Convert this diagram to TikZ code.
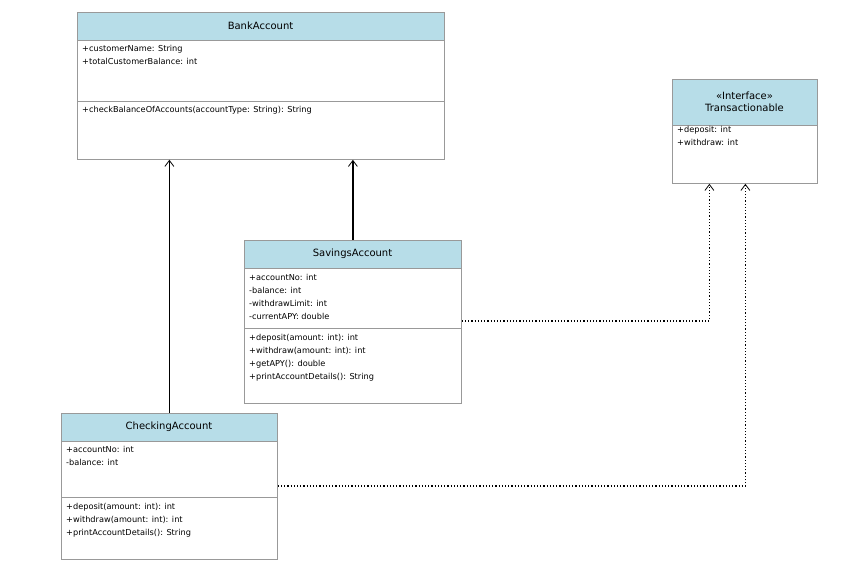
\documentclass[tikz,border=0pt]{standalone}
\usepackage{fontspec}
\setmainfont{DejaVu Sans}
\usetikzlibrary{arrows.meta}
\definecolor{hdr}{HTML}{B7DDE8}
\definecolor{brd}{HTML}{999999}
\begin{document}
\begin{tikzpicture}[x=1pt,y=-1pt,
  box/.style={draw=brd,line width=0.8pt,anchor=north west,inner sep=0},
  hd/.style={fill=hdr,draw=brd,line width=0.8pt},
  ttl/.style={font=\fontsize{10}{12}\selectfont,align=center},
  mem/.style={anchor=north west,inner sep=0,font=\fontsize{8.2}{13}\selectfont,align=left},
  inh/.style={line width=1.2pt,-{Straight Barb[length=6pt,width=9pt,line width=0.8pt]}},
  real/.style={line width=1.2pt,dotted,-{Straight Barb[length=6pt,width=9pt,line width=0.8pt]}}]
\useasboundingbox (0,0) rectangle (847,569);
% BankAccount
\node[box,minimum width=367,minimum height=147] (ba) at (77,12) {};
\filldraw[hd] (77,12) rectangle (444,40);
\draw[brd,line width=0.8pt] (77,101) -- (444,101);
\node[ttl] (bat) at (260.5,26) {BankAccount};
\node[mem] (bam) at (82,45) {+customerName: String\\+totalCustomerBalance: int};
\node[mem] (bao) at (82,106) {+checkBalanceOfAccounts(accountType: String): String};
% Transactionable
\node[box,minimum width=145,minimum height=104] (tr) at (672,79) {};
\filldraw[hd] (672,79) rectangle (817,125);
\node[ttl] (trt) at (744.5,102) {<<Interface>>\\Transactionable};
\node[mem] (trm) at (677,126) {+deposit: int\\+withdraw: int};
% SavingsAccount
\node[box,minimum width=217,minimum height=163] (sa) at (244,240) {};
\filldraw[hd] (244,240) rectangle (461,268);
\draw[brd,line width=0.8pt] (244,328) -- (461,328);
\node[ttl] (sat) at (352.5,254) {SavingsAccount};
\node[mem] (sam) at (249,274) {+accountNo: int\\-balance: int\\-withdrawLimit: int\\-currentAPY: double};
\node[mem] (sao) at (249,334) {+deposit(amount: int): int\\+withdraw(amount: int): int\\+getAPY(): double\\+printAccountDetails(): String};
% CheckingAccount
\node[box,minimum width=216,minimum height=146] (ck) at (61,413) {};
\filldraw[hd] (61,413) rectangle (277,441);
\draw[brd,line width=0.8pt] (61,497) -- (277,497);
\node[ttl] (ckt) at (169,427) {CheckingAccount};
\node[mem] (ckm) at (66,446) {+accountNo: int\\-balance: int};
\node[mem] (cko) at (66,503) {+deposit(amount: int): int\\+withdraw(amount: int): int\\+printAccountDetails(): String};
% connectors
\draw[inh] (ck.north) -- (ck.north |- ba.south);
\draw[inh] (sa.north) -- (sa.north |- ba.south);
\coordinate (t1) at ([xshift=-35.5]tr.south);
\coordinate (t2) at ([xshift=0.5]tr.south);
\draw[real] (sa.east |- 0,321) -| (t1);
\draw[real] (ck.east |- 0,486) -| (t2);
\end{tikzpicture}
\end{document}
